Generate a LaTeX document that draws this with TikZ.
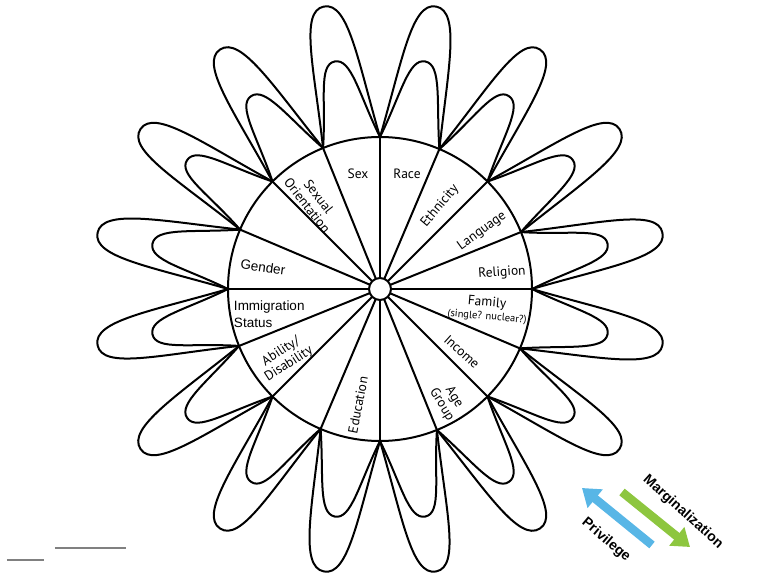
\documentclass[tikz,border=0pt]{standalone}
\usepackage{fontspec}
\setmainfont{PT Sans}
\newfontfamily\arialfont{Liberation Sans}
\usetikzlibrary{arrows.meta}
\definecolor{privblue}{RGB}{88,182,230}
\definecolor{marggreen}{RGB}{141,198,63}

\begin{document}
\begin{tikzpicture}[x=1pt,y=1pt,line width=2pt,
    lbl/.style={font=\fontsize{13.5}{14.5}\selectfont, inner sep=0pt, align=center},
    lblarial/.style={font=\arialfont\fontsize{13.5}{17}\selectfont, inner sep=0pt},
    arrlbl/.style={font=\arialfont\bfseries\fontsize{14}{14}\selectfont, inner sep=0pt}]
  \useasboundingbox (-380,-287) rectangle (388,289);
  \node[circle, draw, minimum size=304pt, outer sep=0pt] (ring) at (0,0) {};
  \node[circle, draw, fill=white, minimum size=22pt, inner sep=0pt, outer sep=0pt] (hub) at (0,0) {};
  % two petals on every sector
  \foreach \i [evaluate=\i as \t using 11.25+22.5*\i,
               evaluate=\i as \a using 22.5+22.5*\i,
               evaluate=\i as \b using 22.5*\i] in {0,...,15} {
    \draw (ring.\a) .. controls +({\t-5}:80) and +({\t+90}:25) .. (\t:288)
          .. controls +({\t-90}:25) and +({\t+5}:80) .. (ring.\b);
    \draw (ring.\a) .. controls +({\t-15}:48) and +({\t+90}:17) .. (\t:232)
          .. controls +({\t-90}:17) and +({\t+15}:48) .. (ring.\b);
  }
  \foreach \i [evaluate=\i as \s using 22.5*\i] in {0,...,15}
    \draw (hub.\s) -- (ring.\s);

  \node[lbl] (sex) at (-22,115) {Sex};
  \node[lbl] (race) at (27,115) {Race};
  \node[lbl, rotate=-52] (sexor) at (-67,88) {Sexual\\Orientation};
  \node[lbl, rotate=50] (ethn) at (60,83) {Ethnicity};
  \node[lbl, rotate=36] (lang) at (102,58) {Language};
  \node[lbl, rotate=4] (relig) at (122,16) {Religion};
  \node[lbl, rotate=-5] (family) at (107,-14) {Family};
  \node[lbl, rotate=-5, font=\fontsize{10.5}{12}\selectfont] (famtype) at (107,-28) {(single? nuclear?)};
  \node[lbl, rotate=-42] (income) at (82,-63) {Income};
  \node[lbl, rotate=-58] (age) at (68,-112) {Age\\Group};
  \node[lbl, rotate=79] (educ) at (-22,-116) {Education};
  \node[lbl, rotate=33] (abil) at (-95,-69) {Ability/\\Disability};
  \node[lblarial, align=left, anchor=west] (immig) at (-147,-25) {Immigration\\Status};
  \node[lblarial, rotate=-8] (gender) at (-117,22) {Gender};

  % privilege / marginalization
  \coordinate (privTail) at (272,-256);
  \coordinate (privTip) at (202,-199);
  \coordinate (margTail) at (242,-203);
  \coordinate (margTip) at (310,-258);
  \draw[privblue, line width=8.5pt, -{Triangle[length=17pt,width=23pt]}] (privTail) -- (privTip);
  \draw[marggreen, line width=8.5pt, -{Triangle[length=17pt,width=23pt]}] (margTail) -- (margTip);
  \node[arrlbl, rotate=-40] (priv) at (226,-251) {Privilege};
  \node[arrlbl, rotate=-42] (marg) at (303,-223) {Marginalization};

  \draw[gray, line width=1.2pt] (-373,-271) -- (-336,-271);
  \draw[gray, line width=1.2pt] (-325,-259) -- (-254,-259);
\end{tikzpicture}
\end{document}
